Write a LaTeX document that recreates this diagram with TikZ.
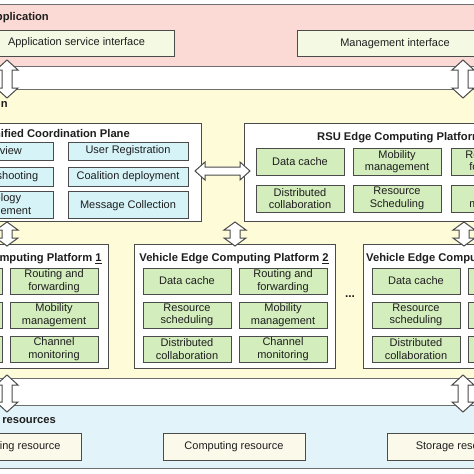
\documentclass[tikz,border=0pt]{standalone}
\usepackage{fontspec}
\setmainfont{Liberation Sans}
\definecolor{pinkband}{RGB}{251,217,213}
\definecolor{yelband}{RGB}{254,251,216}
\definecolor{blueband}{RGB}{227,243,250}
\definecolor{ifcfill}{RGB}{244,249,227}
\definecolor{cyanfill}{RGB}{214,243,248}
\definecolor{grnfill}{RGB}{211,237,189}
\definecolor{resfill}{RGB}{251,249,234}
\definecolor{edge}{RGB}{75,75,75}
\definecolor{bandedge}{RGB}{110,110,110}
\definecolor{txt}{RGB}{30,30,30}
\newcommand\vdarr[4]{% x, ytop, ybottom, head length
  \draw[blockarrow] (#1,#2) -- (#1+11,#2+#4) -- (#1+5,#2+#4) -- (#1+5,#3-#4) -- (#1+11,#3-#4)
    -- (#1,#3) -- (#1-11,#3-#4) -- (#1-5,#3-#4) -- (#1-5,#2+#4) -- (#1-11,#2+#4) -- cycle;}
\newcommand\hdarr[3]{% y, xleft, xright
  \draw[blockarrow] (#2,#1) -- (#2+10,#1-9) -- (#2+10,#1-4) -- (#3-10,#1-4) -- (#3-10,#1-9)
    -- (#3,#1) -- (#3-10,#1+9) -- (#3-10,#1+4) -- (#2+10,#1+4) -- (#2+10,#1+9) -- cycle;}
\begin{document}
\begin{tikzpicture}[x=1pt,y=-1pt,
  font=\fontsize{11}{12.5}\selectfont, text=txt,
  band/.style={draw=bandedge, line width=0.8pt},
  boxbase/.style={draw=edge, line width=1pt, inner sep=0pt, align=center},
  ifcbox/.style={boxbase, fill=ifcfill, minimum width=195pt, minimum height=26pt},
  cybox/.style={boxbase, fill=cyanfill},
  gbox/.style={boxbase, fill=grnfill, minimum width=88pt},
  resbox/.style={boxbase, fill=resfill, minimum width=142pt, minimum height=27pt},
  platbox/.style={boxbase, fill=white, line width=0.9pt},
  ttl/.style={font=\bfseries\fontsize{11.2}{13}\selectfont, inner sep=0pt},
  blockarrow/.style={draw=edge, fill=white, line width=1pt, line join=miter}
]
\useasboundingbox (0,0) rectangle (474,474);
\clip (0,0) rectangle (474,474);
\fill[white] (0,0) rectangle (474,474);

% ---------- bands ----------
\draw[band, fill=pinkband] (-10,4) rectangle (484,66);
\draw[band, fill=yelband] (-10,89) rectangle (484,378);
\draw[band, fill=blueband] (-10,405) rectangle (484,468);

% ---------- application layer ----------
\node[ttl, anchor=east] (apptitle) at (49,18) {Application};
\node[ifcbox] (asi) at (76.5,43) {Application service interface};
\node[ifcbox] (mgi) at (395,43.5) {Management interface};

% ---------- middle layer ----------
\node[ttl, anchor=east] (midtitle) at (8,104) {n};

% Unified coordination plane
\node[platbox, minimum width=271pt, minimum height=98pt] (ucp) at (65.5,172) {};
\node[ttl, anchor=east] (ucptitle) at (130,133) {Unified Coordination Plane};
\node[cybox, minimum width=108pt, minimum height=18pt] (c11) at (-1,151) {Overview};
\node[cybox, minimum width=108pt, minimum height=19pt] (c21) at (-1,176.5) {Troubleshooting};
\node[cybox, minimum width=108pt, minimum height=26.5pt] (c31) at (-1,205.2) {Topology\\management};
\node[cybox, minimum width=120pt, minimum height=18pt] (c12) at (128,151) {User Registration};
\node[cybox, minimum width=120pt, minimum height=19pt] (c22) at (128,176.5) {Coalition deployment};
\node[cybox, minimum width=120pt, minimum height=26.5pt] (c32) at (128,205.2) {Message Collection};

% RSU edge computing platform
\node[platbox, minimum width=312pt, minimum height=98pt] (rsu) at (400,172) {};
\node[ttl, anchor=west] (rsutitle) at (317,138) {RSU Edge Computing Platform};
\node[gbox, minimum height=27pt] (r11) at (300,161.5) {Data cache};
\node[gbox, minimum height=27pt] (r12) at (397,161.5) {Mobility\\management};
\node[gbox, minimum height=27pt] (r13) at (495,161.5) {Routing and\\forwarding};
\node[gbox, minimum height=27pt] (r21) at (300,198.5) {Distributed\\collaboration};
\node[gbox, minimum height=27pt] (r22) at (397,198.5) {Resource\\Scheduling};
\node[gbox, minimum height=27pt] (r23) at (495,198.5) {Channel\\monitoring};

\hdarr{171}{195}{250}

% vehicle edge computing platforms
\node[platbox, minimum width=201pt, minimum height=124pt] (v1) at (7.5,306) {};
\node[ttl] (v1title) at (7,259) {Vehicle Edge Computing Platform \underline{1}};
\node[gbox, minimum height=26pt] (v1a) at (-42,281) {};
\node[gbox, minimum height=26pt] (v1b) at (-42,315) {};
\node[gbox, minimum height=26pt] (v1c) at (-42,349) {};
\node[gbox, minimum height=26pt] (v1d) at (54,281) {Routing and\\forwarding};
\node[gbox, minimum height=26pt] (v1e) at (54,315) {Mobility\\management};
\node[gbox, minimum height=26pt] (v1f) at (54,349) {Channel\\monitoring};

\node[platbox, minimum width=201pt, minimum height=124pt] (v2) at (234.5,306) {};
\node[ttl] (v2title) at (234,259) {Vehicle Edge Computing Platform \underline{2}};
\node[gbox, minimum height=26pt] (v2a) at (187,281) {Data cache};
\node[gbox, minimum height=26pt] (v2b) at (187,315) {Resource\\scheduling};
\node[gbox, minimum height=26pt] (v2c) at (187,349) {Distributed\\collaboration};
\node[gbox, minimum height=26pt] (v2d) at (283,281) {Routing and\\forwarding};
\node[gbox, minimum height=26pt] (v2e) at (283,315) {Mobility\\management};
\node[gbox, minimum height=26pt] (v2f) at (283,349) {Channel\\monitoring};

\node[font=\bfseries\fontsize{12}{13}\selectfont, inner sep=0pt] (dots) at (350,297) {...};

\node[platbox, minimum width=201pt, minimum height=124pt] (v3) at (463.5,306) {};
\node[ttl, anchor=west] (v3title) at (366,259) {Vehicle Edge Computing Platform};
\node[gbox, minimum height=26pt] (v3a) at (416,281) {Data cache};
\node[gbox, minimum height=26pt] (v3b) at (416,315) {Resource\\scheduling};
\node[gbox, minimum height=26pt] (v3c) at (416,349) {Distributed\\collaboration};
\node[gbox, minimum height=26pt] (v3d) at (512,281) {};
\node[gbox, minimum height=26pt] (v3e) at (512,315) {};
\node[gbox, minimum height=26pt] (v3f) at (512,349) {};

% ---------- resources layer ----------
\node[ttl, anchor=east] (restitle) at (56,421) {resources};
\node[resbox] (net) at (10,446.5) {Networking resource};
\node[resbox] (cmp) at (234,446.5) {Computing resource};
\node[resbox] (sto) at (458,446.5) {Storage resource};

% ---------- block double arrows ----------
\vdarr{7}{60}{98}{10}
\vdarr{463}{60}{98}{10}
\vdarr{7}{222}{246}{8}
\vdarr{235}{222}{246}{8}
\vdarr{464}{222}{246}{8}
\vdarr{7}{375}{412}{10}
\vdarr{463}{375}{412}{10}
\end{tikzpicture}
\end{document}
